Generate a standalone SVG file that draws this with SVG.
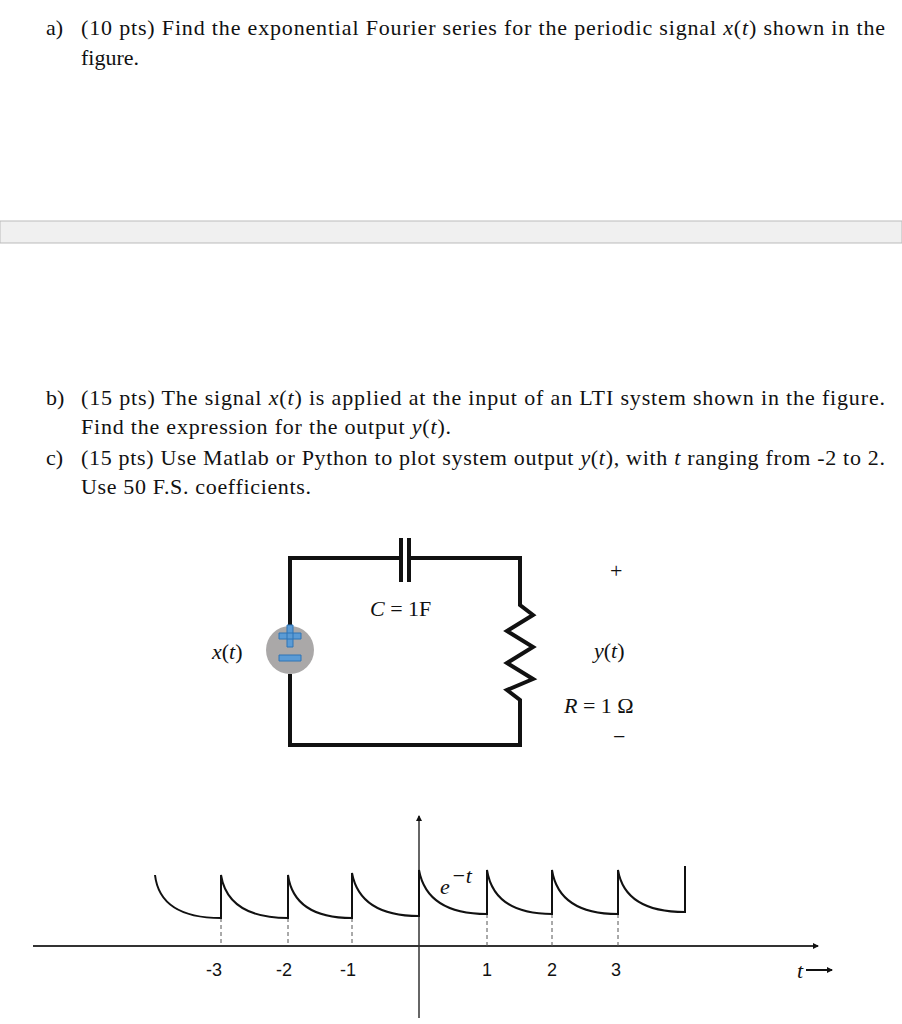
<svg xmlns="http://www.w3.org/2000/svg" width="902" height="1024" viewBox="0 0 902 1024">
<style>
.t{font-family:"Liberation Serif",serif;font-size:22px;fill:#111}
.i{font-style:italic}
.w{fill:none;stroke:#111;stroke-width:4}
.c{fill:none;stroke:#111;stroke-width:2}
.d{stroke:#555;stroke-width:1;stroke-dasharray:4,3}
.a{font-family:"Liberation Sans",sans-serif;font-size:18px;fill:#111}
</style>
<defs><marker id="ar" markerWidth="6" markerHeight="6" refX="5" refY="3" orient="auto" markerUnits="userSpaceOnUse"><path d="M0,0L6,3L0,6z" fill="#111"/></marker></defs>
<rect width="902" height="1024" fill="#fff"/>
<text class="t" x="46" y="35">a)</text>
<text class="t" x="81" y="35" textLength="804" lengthAdjust="spacing">(10 pts) Find the exponential Fourier series for the periodic signal <tspan class="i">x</tspan>(<tspan class="i">t</tspan>) shown in the</text>
<text class="t" x="81" y="65">figure.</text>
<rect x="0" y="221" width="902" height="22" fill="#f0f0f0" stroke="#bbb"/>
<text class="t" x="46" y="405">b)</text>
<text class="t" x="81" y="405" textLength="804" lengthAdjust="spacing">(15 pts) The signal <tspan class="i">x</tspan>(<tspan class="i">t</tspan>) is applied at the input of an LTI system shown in the figure.</text>
<text class="t" x="81" y="434" textLength="370" lengthAdjust="spacing">Find the expression for the output <tspan class="i">y</tspan>(<tspan class="i">t</tspan>).</text>
<text class="t" x="46" y="465">c)</text>
<text class="t" x="81" y="465" textLength="804" lengthAdjust="spacing">(15 pts) Use Matlab or Python to plot system output <tspan class="i">y</tspan>(<tspan class="i">t</tspan>), with <tspan class="i">t</tspan> ranging from -2 to 2.</text>
<text class="t" x="81" y="494" textLength="230" lengthAdjust="spacing">Use 50 F.S. coefficients.</text>
<g id="circuit">
<path class="w" d="M290,626V558H401M409,558H520V605L533,615L507,631L533,647L507,663L533,679L507,690L520,700V745H290V674"/>
<path class="w" d="M401,538V582M409,538V582" stroke-width="3"/>
<g id="source"><circle cx="290" cy="650" r="24" fill="#aaa8a8"/>
<path d="M279,633h22v6h-22z M287,625h6v22h-6z M279,655h22v6h-22z" fill="#5b9bd5" stroke="#2e75b6" stroke-width="1"/></g>
<text class="t" x="370" y="616" font-size="24"><tspan class="i">C</tspan> = 1F</text>
<text class="t" x="212" y="659" font-size="24"><tspan class="i">x</tspan>(<tspan class="i">t</tspan>)</text>
<text class="t" x="610" y="578" font-size="24">+</text>
<text class="t" x="594" y="658" font-size="24"><tspan class="i">y</tspan>(<tspan class="i">t</tspan>)</text>
<text class="t" x="564" y="713" font-size="24"><tspan class="i">R</tspan> = 1 Ω</text>
<text class="t" x="613" y="744" font-size="24">−</text>
</g>
<g id="plot">
<line x1="33" y1="946" x2="818" y2="946" stroke="#333" stroke-width="2" marker-end="url(#ar)"/>
<line x1="419" y1="1018" x2="419" y2="816" stroke="#333" stroke-width="1.5" marker-end="url(#ar)"/>
<g class="d"><line x1="221" y1="918" x2="221" y2="946"/><line x1="288" y1="918" x2="288" y2="946"/><line x1="352" y1="918" x2="352" y2="946"/><line x1="487" y1="914" x2="487" y2="946"/><line x1="552" y1="914" x2="552" y2="946"/><line x1="618" y1="914" x2="618" y2="946"/></g>
<path class="c" d="M155,875Q160,918 221,918V875Q228,918 288,918V875Q294,918 352,918V873Q360,916 419,916V870Q427,914 487,914V870Q494,914 552,914V870Q559,914 618,914V870Q625,912 685,912V866"/>
<text class="a" x="206" y="976">-3</text><text class="a" x="276" y="976">-2</text><text class="a" x="340" y="976">-1</text>
<text class="a" x="482" y="976">1</text><text class="a" x="547" y="976">2</text><text class="a" x="611" y="976">3</text>
<text class="t i" x="440" y="894">e</text><text class="t i" x="451" y="883" font-size="15">−t</text>
<text class="t i" x="797" y="978">t</text>
<line x1="806" y1="970" x2="832" y2="970" stroke="#111" stroke-width="2" marker-end="url(#ar)"/>
</g>
</svg>
